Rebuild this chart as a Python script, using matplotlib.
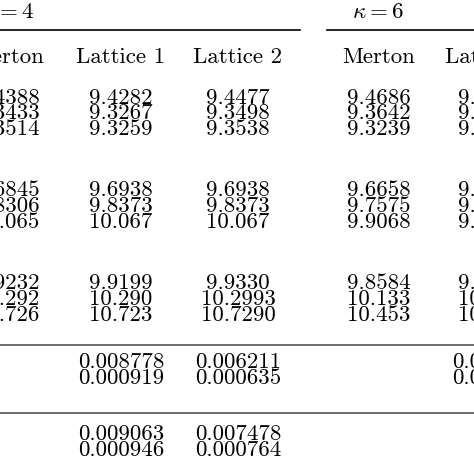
import matplotlib.pyplot as plt

plt.rcParams['font.family'] = 'cmr10'
plt.rcParams['mathtext.fontset'] = 'cm'
plt.rcParams['axes.formatter.use_mathtext'] = True

# column headers and values (table is cropped, outer columns partly hidden)
headers = ['Merton', 'Lattice 1', 'Lattice 2', 'Merton', 'Lattice 1']
merton4 = ['9.4388', '9.3433', '9.3514', '9.6845', '9.8306', '10.065', '9.9232', '10.292', '10.726']
lat1_4 = ['9.4282', '9.3267', '9.3259', '9.6938', '9.8373', '10.067', '9.9199', '10.290', '10.723']
lat2_4 = ['9.4477', '9.3498', '9.3538', '9.6938', '9.8373', '10.067', '9.9330', '10.2993', '10.7290']
merton6 = ['9.4686', '9.3642', '9.3239', '9.6658', '9.7575', '9.9068', '9.8584', '10.133', '10.453']
lat1_6 = ['9.4590', '9.3551', '9.3207', '9.6712', '9.7631', '9.9102', '9.8511', '10.128', '10.449']
err1 = {'Lattice 1': ['0.008778', '0.000919'], 'Lattice 2': ['0.006211', '0.000635'],
        'Lattice 1b': ['0.004325', '0.000451']}
err2 = {'Lattice 1': ['0.009063', '0.000946'], 'Lattice 2': ['0.007478', '0.000764']}

col_x = [8, 121, 238, 379, 490]
row_y = [98, 113, 129, 190, 206, 222, 283, 299, 315]

fig = plt.figure(figsize=(4.74, 4.74), dpi=100)
ax = fig.add_axes([0, 0, 1, 1])
ax.set_xlim(0, 474)
ax.set_ylim(474, 0)
ax.axis('off')

fs = 16.5
ax.text(8, 12, r'$\kappa = 4$', ha='center', va='center', fontsize=fs)
ax.text(378, 12, r'$\kappa = 6$', ha='center', va='center', fontsize=fs)
ax.plot([0, 300], [30, 30], color='black', lw=1.2)
ax.plot([327, 474], [30, 30], color='black', lw=1.2)

for x, h in zip(col_x, headers):
    ax.text(x, 57, h, ha='center', va='center', fontsize=fs)

for x, col in zip(col_x, [merton4, lat1_4, lat2_4, merton6, lat1_6]):
    for y, v in zip(row_y, col):
        ax.text(x, y, v, ha='center', va='center', fontsize=fs)

ax.plot([0, 474], [345, 345], color='#555555', lw=1.2)
for x, key in zip([121, 238, 495], ['Lattice 1', 'Lattice 2', 'Lattice 1b']):
    for y, v in zip([362, 378], err1[key]):
        ax.text(x, y, v, ha='center', va='center', fontsize=fs)

ax.plot([0, 474], [413, 413], color='#555555', lw=1.2)
for x, key in zip([121, 238], ['Lattice 1', 'Lattice 2']):
    for y, v in zip([434, 450], err2[key]):
        ax.text(x, y, v, ha='center', va='center', fontsize=fs)

fig.savefig('out.png', dpi=100)
